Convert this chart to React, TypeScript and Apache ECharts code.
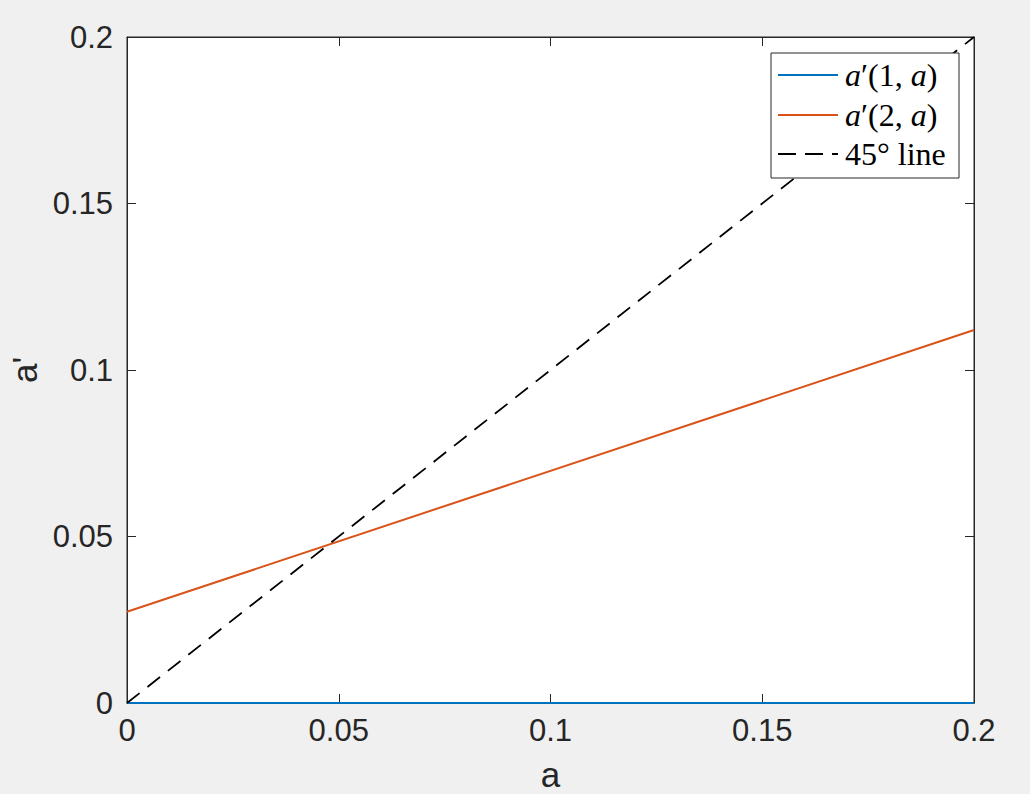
import React, { useEffect, useRef } from "react";
import * as echarts from "echarts";

const xTicks = [0, 0.05, 0.1, 0.15, 0.2];
const yTicks = [0, 0.05, 0.1, 0.15, 0.2];
const seriesNames = ["a'(1,a)", "a'(2,a)", "45° line"];
const seriesColors = ["#0072BD", "#D95319", "#000000"];
const line1: [number, number][] = [[0, 0], [0.2, 0]];
const line2: [number, number][] = [[0, 0.0274], [0.2, 0.112]];
const line45: [number, number][] = [[0, 0], [0.2, 0.2]];

const legendLabels = [
  "{i|a}{n|′(1, }{i|a}{n|)}",
  "{i|a}{n|′(2, }{i|a}{n|)}",
  "{n|45° line}",
];

export default function App() {
  const ref = useRef<HTMLDivElement>(null);
  useEffect(() => {
    document.body.style.margin = "0";
    const chart = echarts.init(ref.current!, undefined, { renderer: "svg" });
    const font = "'Liberation Sans', Arial, sans-serif";
    const serif = "'Liberation Serif', 'DejaVu Serif', serif";
    const tickFmt = (v: number) => String(Number(v.toFixed(2)));
    const axisCommon = {
      type: "value" as const,
      min: 0,
      max: 0.2,
      interval: 0.05,
      splitLine: { show: false },
      axisLine: { show: true, onZero: false, lineStyle: { color: "#262626", width: 1 } },
      axisTick: { show: true, inside: true, length: 9, lineStyle: { color: "#262626" } },
    };
    const legendX = 771;
    const legendY = 53;
    const rowY = [22, 62, 101];
    const legendGraphics: any[] = [
      {
        type: "rect",
        shape: { x: legendX, y: legendY, width: 188, height: 125 },
        style: { fill: "#ffffff", stroke: "#262626", lineWidth: 1 },
        z: 100,
      },
    ];
    seriesNames.forEach((_, k) => {
      legendGraphics.push({
        type: "line",
        shape: { x1: legendX + 7, y1: legendY + rowY[k], x2: legendX + 67, y2: legendY + rowY[k] },
        style: {
          stroke: seriesColors[k],
          lineWidth: 2,
          lineDash: k === 2 ? [18, 9] : null,
        },
        z: 101,
      });
      legendGraphics.push({
        type: "text",
        x: legendX + 74,
        y: legendY + rowY[k],
        style: {
          text: legendLabels[k],
          verticalAlign: "middle",
          rich: {
            i: { fontFamily: serif, fontStyle: "italic", fontSize: 32, fill: "#000" },
            n: { fontFamily: serif, fontSize: 32, fill: "#000" },
          },
        },
        z: 101,
      });
    });
    chart.setOption({
      animation: false,
      backgroundColor: "#f0f0f0",
      grid: {
        left: 127,
        right: 56,
        top: 37,
        bottom: 91,
        show: true,
        containLabel: false,
        outerBoundsMode: "none",
        backgroundColor: "#ffffff",
        borderColor: "#262626",
        borderWidth: 1,
      },
      xAxis: [
        {
          ...axisCommon,
          position: "bottom",
          name: "a",
          nameLocation: "middle",
          nameGap: 54,
          nameTextStyle: { fontFamily: font, fontSize: 35, color: "#262626" },
          axisLabel: { fontFamily: font, fontSize: 31, color: "#262626", margin: 12, formatter: tickFmt },
        },
        {
          ...axisCommon,
          position: "top",
          axisLabel: { show: false },
        },
      ],
      yAxis: [
        {
          ...axisCommon,
          position: "left",
          name: "a'",
          nameLocation: "middle",
          nameGap: 84,
          nameRotate: 90,
          nameTextStyle: { fontFamily: font, fontSize: 35, color: "#262626" },
          axisLabel: { fontFamily: font, fontSize: 31, color: "#262626", margin: 14, formatter: tickFmt },
        },
        {
          ...axisCommon,
          position: "right",
          axisLabel: { show: false },
        },
      ],
      graphic: legendGraphics,
      series: [
        {
          name: seriesNames[0],
          type: "line",
          data: line1,
          symbol: "none",
          color: seriesColors[0],
          lineStyle: { color: seriesColors[0], width: 2 },
        },
        {
          name: seriesNames[1],
          type: "line",
          data: line2,
          symbol: "none",
          color: seriesColors[1],
          lineStyle: { color: seriesColors[1], width: 2 },
        },
        {
          name: seriesNames[2],
          type: "line",
          data: line45,
          symbol: "none",
          color: seriesColors[2],
          lineStyle: { color: seriesColors[2], width: 1.8, type: [16, 10] },
        },
      ],
    });
    return () => chart.dispose();
  }, []);
  return <div ref={ref} style={{ width: 1030, height: 794 }} />;
}
